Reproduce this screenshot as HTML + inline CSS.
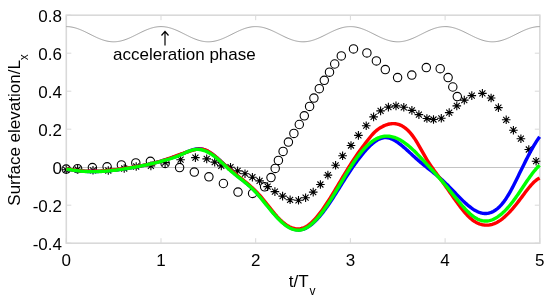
<!DOCTYPE html>
<html><head><meta charset="utf-8"><style>
html,body{margin:0;padding:0;background:#fff;}
svg{display:block;}
.t{font-family:"Liberation Sans",Arial,sans-serif;font-size:17px;fill:#000;}
</style></head><body>
<svg width="550" height="299" viewBox="0 0 550 299">
<rect x="66.3" y="15.2" width="473.49999999999994" height="228.0" fill="none" stroke="#d9d9d9" stroke-width="1.6"/>
<line x1="66.30" y1="243.2" x2="66.30" y2="238.2" stroke="#d9d9d9" stroke-width="1"/>
<line x1="66.30" y1="15.2" x2="66.30" y2="20.2" stroke="#d9d9d9" stroke-width="1"/>
<line x1="161.00" y1="243.2" x2="161.00" y2="238.2" stroke="#d9d9d9" stroke-width="1"/>
<line x1="161.00" y1="15.2" x2="161.00" y2="20.2" stroke="#d9d9d9" stroke-width="1"/>
<line x1="255.70" y1="243.2" x2="255.70" y2="238.2" stroke="#d9d9d9" stroke-width="1"/>
<line x1="255.70" y1="15.2" x2="255.70" y2="20.2" stroke="#d9d9d9" stroke-width="1"/>
<line x1="350.40" y1="243.2" x2="350.40" y2="238.2" stroke="#d9d9d9" stroke-width="1"/>
<line x1="350.40" y1="15.2" x2="350.40" y2="20.2" stroke="#d9d9d9" stroke-width="1"/>
<line x1="445.10" y1="243.2" x2="445.10" y2="238.2" stroke="#d9d9d9" stroke-width="1"/>
<line x1="445.10" y1="15.2" x2="445.10" y2="20.2" stroke="#d9d9d9" stroke-width="1"/>
<line x1="539.80" y1="243.2" x2="539.80" y2="238.2" stroke="#d9d9d9" stroke-width="1"/>
<line x1="539.80" y1="15.2" x2="539.80" y2="20.2" stroke="#d9d9d9" stroke-width="1"/>
<line x1="66.3" y1="243.20" x2="71.3" y2="243.20" stroke="#d9d9d9" stroke-width="1"/>
<line x1="539.8" y1="243.20" x2="534.8" y2="243.20" stroke="#d9d9d9" stroke-width="1"/>
<line x1="66.3" y1="205.20" x2="71.3" y2="205.20" stroke="#d9d9d9" stroke-width="1"/>
<line x1="539.8" y1="205.20" x2="534.8" y2="205.20" stroke="#d9d9d9" stroke-width="1"/>
<line x1="66.3" y1="167.20" x2="71.3" y2="167.20" stroke="#d9d9d9" stroke-width="1"/>
<line x1="539.8" y1="167.20" x2="534.8" y2="167.20" stroke="#d9d9d9" stroke-width="1"/>
<line x1="66.3" y1="129.20" x2="71.3" y2="129.20" stroke="#d9d9d9" stroke-width="1"/>
<line x1="539.8" y1="129.20" x2="534.8" y2="129.20" stroke="#d9d9d9" stroke-width="1"/>
<line x1="66.3" y1="91.20" x2="71.3" y2="91.20" stroke="#d9d9d9" stroke-width="1"/>
<line x1="539.8" y1="91.20" x2="534.8" y2="91.20" stroke="#d9d9d9" stroke-width="1"/>
<line x1="66.3" y1="53.20" x2="71.3" y2="53.20" stroke="#d9d9d9" stroke-width="1"/>
<line x1="539.8" y1="53.20" x2="534.8" y2="53.20" stroke="#d9d9d9" stroke-width="1"/>
<line x1="66.3" y1="15.20" x2="71.3" y2="15.20" stroke="#d9d9d9" stroke-width="1"/>
<line x1="539.8" y1="15.20" x2="534.8" y2="15.20" stroke="#d9d9d9" stroke-width="1"/>
<line x1="66.3" y1="167.5" x2="539.8" y2="167.5" stroke="#c4c4c4" stroke-width="1.2"/>
<polyline points="66.30,26.60 67.25,26.61 68.19,26.66 69.14,26.73 70.09,26.84 71.03,26.97 71.98,27.13 72.93,27.32 73.88,27.54 74.82,27.78 75.77,28.05 76.72,28.34 77.66,28.66 78.61,29.00 79.56,29.36 80.50,29.73 81.45,30.13 82.40,30.54 83.35,30.96 84.29,31.40 85.24,31.85 86.19,32.31 87.13,32.78 88.08,33.25 89.03,33.72 89.97,34.20 90.92,34.68 91.87,35.15 92.82,35.62 93.76,36.09 94.71,36.55 95.66,37.00 96.60,37.44 97.55,37.86 98.50,38.27 99.44,38.67 100.39,39.04 101.34,39.40 102.29,39.74 103.23,40.06 104.18,40.35 105.13,40.62 106.07,40.86 107.02,41.08 107.97,41.27 108.91,41.43 109.86,41.56 110.81,41.67 111.76,41.74 112.70,41.79 113.65,41.80 114.60,41.79 115.54,41.74 116.49,41.67 117.44,41.56 118.39,41.43 119.33,41.27 120.28,41.08 121.23,40.86 122.17,40.62 123.12,40.35 124.07,40.06 125.01,39.74 125.96,39.40 126.91,39.04 127.86,38.67 128.80,38.27 129.75,37.86 130.70,37.44 131.64,37.00 132.59,36.55 133.54,36.09 134.48,35.62 135.43,35.15 136.38,34.68 137.32,34.20 138.27,33.72 139.22,33.25 140.17,32.78 141.11,32.31 142.06,31.85 143.01,31.40 143.95,30.96 144.90,30.54 145.85,30.13 146.80,29.73 147.74,29.36 148.69,29.00 149.64,28.66 150.58,28.34 151.53,28.05 152.48,27.78 153.42,27.54 154.37,27.32 155.32,27.13 156.26,26.97 157.21,26.84 158.16,26.73 159.11,26.66 160.05,26.61 161.00,26.60 161.95,26.61 162.89,26.66 163.84,26.73 164.79,26.84 165.74,26.97 166.68,27.13 167.63,27.32 168.58,27.54 169.52,27.78 170.47,28.05 171.42,28.34 172.36,28.66 173.31,29.00 174.26,29.36 175.20,29.73 176.15,30.13 177.10,30.54 178.05,30.96 178.99,31.40 179.94,31.85 180.89,32.31 181.83,32.78 182.78,33.25 183.73,33.72 184.68,34.20 185.62,34.68 186.57,35.15 187.52,35.62 188.46,36.09 189.41,36.55 190.36,37.00 191.30,37.44 192.25,37.86 193.20,38.27 194.15,38.67 195.09,39.04 196.04,39.40 196.99,39.74 197.93,40.06 198.88,40.35 199.83,40.62 200.77,40.86 201.72,41.08 202.67,41.27 203.62,41.43 204.56,41.56 205.51,41.67 206.46,41.74 207.40,41.79 208.35,41.80 209.30,41.79 210.24,41.74 211.19,41.67 212.14,41.56 213.08,41.43 214.03,41.27 214.98,41.08 215.93,40.86 216.87,40.62 217.82,40.35 218.77,40.06 219.71,39.74 220.66,39.40 221.61,39.04 222.56,38.67 223.50,38.27 224.45,37.86 225.40,37.44 226.34,37.00 227.29,36.55 228.24,36.09 229.18,35.62 230.13,35.15 231.08,34.68 232.02,34.20 232.97,33.72 233.92,33.25 234.87,32.78 235.81,32.31 236.76,31.85 237.71,31.40 238.65,30.96 239.60,30.54 240.55,30.13 241.50,29.73 242.44,29.36 243.39,29.00 244.34,28.66 245.28,28.34 246.23,28.05 247.18,27.78 248.12,27.54 249.07,27.32 250.02,27.13 250.96,26.97 251.91,26.84 252.86,26.73 253.81,26.66 254.75,26.61 255.70,26.60 256.65,26.61 257.59,26.66 258.54,26.73 259.49,26.84 260.44,26.97 261.38,27.13 262.33,27.32 263.28,27.54 264.22,27.78 265.17,28.05 266.12,28.34 267.06,28.66 268.01,29.00 268.96,29.36 269.90,29.73 270.85,30.13 271.80,30.54 272.75,30.96 273.69,31.40 274.64,31.85 275.59,32.31 276.53,32.78 277.48,33.25 278.43,33.72 279.38,34.20 280.32,34.68 281.27,35.15 282.22,35.62 283.16,36.09 284.11,36.55 285.06,37.00 286.00,37.44 286.95,37.86 287.90,38.27 288.85,38.67 289.79,39.04 290.74,39.40 291.69,39.74 292.63,40.06 293.58,40.35 294.53,40.62 295.47,40.86 296.42,41.08 297.37,41.27 298.31,41.43 299.26,41.56 300.21,41.67 301.16,41.74 302.10,41.79 303.05,41.80 304.00,41.79 304.94,41.74 305.89,41.67 306.84,41.56 307.78,41.43 308.73,41.27 309.68,41.08 310.63,40.86 311.57,40.62 312.52,40.35 313.47,40.06 314.41,39.74 315.36,39.40 316.31,39.04 317.25,38.67 318.20,38.27 319.15,37.86 320.10,37.44 321.04,37.00 321.99,36.55 322.94,36.09 323.88,35.62 324.83,35.15 325.78,34.68 326.73,34.20 327.67,33.72 328.62,33.25 329.57,32.78 330.51,32.31 331.46,31.85 332.41,31.40 333.35,30.96 334.30,30.54 335.25,30.13 336.20,29.73 337.14,29.36 338.09,29.00 339.04,28.66 339.98,28.34 340.93,28.05 341.88,27.78 342.82,27.54 343.77,27.32 344.72,27.13 345.67,26.97 346.61,26.84 347.56,26.73 348.51,26.66 349.45,26.61 350.40,26.60 351.35,26.61 352.29,26.66 353.24,26.73 354.19,26.84 355.13,26.97 356.08,27.13 357.03,27.32 357.98,27.54 358.92,27.78 359.87,28.05 360.82,28.34 361.76,28.66 362.71,29.00 363.66,29.36 364.61,29.73 365.55,30.13 366.50,30.54 367.45,30.96 368.39,31.40 369.34,31.85 370.29,32.31 371.23,32.78 372.18,33.25 373.13,33.72 374.08,34.20 375.02,34.68 375.97,35.15 376.92,35.62 377.86,36.09 378.81,36.55 379.76,37.00 380.70,37.44 381.65,37.86 382.60,38.27 383.55,38.67 384.49,39.04 385.44,39.40 386.39,39.74 387.33,40.06 388.28,40.35 389.23,40.62 390.17,40.86 391.12,41.08 392.07,41.27 393.02,41.43 393.96,41.56 394.91,41.67 395.86,41.74 396.80,41.79 397.75,41.80 398.70,41.79 399.64,41.74 400.59,41.67 401.54,41.56 402.49,41.43 403.43,41.27 404.38,41.08 405.33,40.86 406.27,40.62 407.22,40.35 408.17,40.06 409.11,39.74 410.06,39.40 411.01,39.04 411.96,38.67 412.90,38.27 413.85,37.86 414.80,37.44 415.74,37.00 416.69,36.55 417.64,36.09 418.58,35.62 419.53,35.15 420.48,34.68 421.43,34.20 422.37,33.72 423.32,33.25 424.27,32.78 425.21,32.31 426.16,31.85 427.11,31.40 428.05,30.96 429.00,30.54 429.95,30.13 430.90,29.73 431.84,29.36 432.79,29.00 433.74,28.66 434.68,28.34 435.63,28.05 436.58,27.78 437.52,27.54 438.47,27.32 439.42,27.13 440.37,26.97 441.31,26.84 442.26,26.73 443.21,26.66 444.15,26.61 445.10,26.60 446.05,26.61 446.99,26.66 447.94,26.73 448.89,26.84 449.83,26.97 450.78,27.13 451.73,27.32 452.68,27.54 453.62,27.78 454.57,28.05 455.52,28.34 456.46,28.66 457.41,29.00 458.36,29.36 459.31,29.73 460.25,30.13 461.20,30.54 462.15,30.96 463.09,31.40 464.04,31.85 464.99,32.31 465.93,32.78 466.88,33.25 467.83,33.72 468.78,34.20 469.72,34.68 470.67,35.15 471.62,35.62 472.56,36.09 473.51,36.55 474.46,37.00 475.40,37.44 476.35,37.86 477.30,38.27 478.25,38.67 479.19,39.04 480.14,39.40 481.09,39.74 482.03,40.06 482.98,40.35 483.93,40.62 484.87,40.86 485.82,41.08 486.77,41.27 487.72,41.43 488.66,41.56 489.61,41.67 490.56,41.74 491.50,41.79 492.45,41.80 493.40,41.79 494.34,41.74 495.29,41.67 496.24,41.56 497.19,41.43 498.13,41.27 499.08,41.08 500.03,40.86 500.97,40.62 501.92,40.35 502.87,40.06 503.81,39.74 504.76,39.40 505.71,39.04 506.66,38.67 507.60,38.27 508.55,37.86 509.50,37.44 510.44,37.00 511.39,36.55 512.34,36.09 513.28,35.62 514.23,35.15 515.18,34.68 516.12,34.20 517.07,33.72 518.02,33.25 518.97,32.78 519.91,32.31 520.86,31.85 521.81,31.40 522.75,30.96 523.70,30.54 524.65,30.13 525.59,29.73 526.54,29.36 527.49,29.00 528.44,28.66 529.38,28.34 530.33,28.05 531.28,27.78 532.22,27.54 533.17,27.32 534.12,27.13 535.07,26.97 536.01,26.84 536.96,26.73 537.91,26.66 538.85,26.61 539.80,26.60" fill="none" stroke="#a0a0a0" stroke-width="1"/>
<text x="66.30" y="265.5" text-anchor="middle" class="t">0</text>
<text x="161.00" y="265.5" text-anchor="middle" class="t">1</text>
<text x="255.70" y="265.5" text-anchor="middle" class="t">2</text>
<text x="350.40" y="265.5" text-anchor="middle" class="t">3</text>
<text x="445.10" y="265.5" text-anchor="middle" class="t">4</text>
<text x="539.80" y="265.5" text-anchor="middle" class="t">5</text>
<text x="62" y="250.20" text-anchor="end" class="t">-0.4</text>
<text x="62" y="212.20" text-anchor="end" class="t">-0.2</text>
<text x="62" y="174.20" text-anchor="end" class="t">0</text>
<text x="62" y="136.20" text-anchor="end" class="t">0.2</text>
<text x="62" y="98.20" text-anchor="end" class="t">0.4</text>
<text x="62" y="60.20" text-anchor="end" class="t">0.6</text>
<text x="62" y="22.20" text-anchor="end" class="t">0.8</text>
<text x="288.8" y="287" class="t">t/T<tspan dx="0.8" dy="7.5" font-size="12">v</tspan></text>
<text transform="translate(20,205.7) rotate(-90)" class="t">Surface elevation/L<tspan dy="7.5" font-size="12">x</tspan></text>
<text x="113" y="59.9" class="t">acceleration phase</text>
<path d="M165,45.4 V31.4 M161.5,35.5 L165,31.4 L168.5,35.5" fill="none" stroke="#000" stroke-width="1.2"/>
<g fill="none" stroke="#000" stroke-width="1.1">
<circle cx="66.2" cy="169.1" r="4.2"/>
<circle cx="77.6" cy="168.7" r="4.2"/>
<circle cx="92.4" cy="167.6" r="4.2"/>
<circle cx="107.1" cy="166.8" r="4.2"/>
<circle cx="121.4" cy="164.9" r="4.2"/>
<circle cx="135.8" cy="162.9" r="4.2"/>
<circle cx="150.4" cy="161.3" r="4.2"/>
<circle cx="165.1" cy="163.4" r="4.2"/>
<circle cx="179.6" cy="167.6" r="4.2"/>
<circle cx="194.3" cy="172.1" r="4.2"/>
<circle cx="208.9" cy="176.8" r="4.2"/>
<circle cx="223.4" cy="183.5" r="4.2"/>
<circle cx="238" cy="192.1" r="4.2"/>
<circle cx="252.6" cy="193.4" r="4.2"/>
<circle cx="264.6" cy="186.8" r="4.2"/>
<circle cx="271" cy="177.6" r="4.2"/>
<circle cx="275.2" cy="168.4" r="4.2"/>
<circle cx="278.4" cy="160.4" r="4.2"/>
<circle cx="283.1" cy="151.4" r="4.2"/>
<circle cx="288.4" cy="142.1" r="4.2"/>
<circle cx="293.9" cy="133.4" r="4.2"/>
<circle cx="299.3" cy="124.5" r="4.2"/>
<circle cx="304.3" cy="115.8" r="4.2"/>
<circle cx="309.6" cy="106.4" r="4.2"/>
<circle cx="313.9" cy="98.1" r="4.2"/>
<circle cx="319.3" cy="88.7" r="4.2"/>
<circle cx="324.3" cy="80.3" r="4.2"/>
<circle cx="329.5" cy="72.2" r="4.2"/>
<circle cx="334.7" cy="64" r="4.2"/>
<circle cx="341.3" cy="55.9" r="4.2"/>
<circle cx="353.5" cy="48.9" r="4.2"/>
<circle cx="366.9" cy="52.9" r="4.2"/>
<circle cx="376.4" cy="60.9" r="4.2"/>
<circle cx="385.3" cy="69.6" r="4.2"/>
<circle cx="397.6" cy="77.6" r="4.2"/>
<circle cx="411.8" cy="75.1" r="4.2"/>
<circle cx="426.3" cy="67.6" r="4.2"/>
<circle cx="440.2" cy="68.7" r="4.2"/>
<circle cx="448.1" cy="77.6" r="4.2"/>
<circle cx="452.8" cy="87" r="4.2"/>
<circle cx="457.3" cy="96.6" r="4.2"/>
</g>
<path d="M61.9,169.8h8.6M66.2,165.5v8.6M63.2,166.8l6,6M63.2,172.8l6,-6M73.3,169.3h8.6M77.6,165.0v8.6M74.6,166.3l6,6M74.6,172.3l6,-6M88.7,170.3h8.6M93.0,166.0v8.6M90.0,167.3l6,6M90.0,173.3l6,-6M104.0,170.5h8.6M108.3,166.2v8.6M105.3,167.5l6,6M105.3,173.5l6,-6M119.9,168.5h8.6M124.2,164.2v8.6M121.2,165.5l6,6M121.2,171.5l6,-6M131.9,166.5h8.6M136.2,162.2v8.6M133.2,163.5l6,6M133.2,169.5l6,-6M146.6,165.9h8.6M150.9,161.6v8.6M147.9,162.9l6,6M147.9,168.9l6,-6M160.8,162.6h8.6M165.1,158.3v8.6M162.1,159.6l6,6M162.1,165.6l6,-6M176.3,159.7h8.6M180.6,155.4v8.6M177.6,156.7l6,6M177.6,162.7l6,-6M191.1,157.6h8.6M195.4,153.3v8.6M192.4,154.6l6,6M192.4,160.6l6,-6M202.4,158.9h8.6M206.7,154.6v8.6M203.7,155.9l6,6M203.7,161.9l6,-6M210.4,162.1h8.6M214.7,157.8v8.6M211.7,159.1l6,6M211.7,165.1l6,-6M217.0,165.9h8.6M221.3,161.6v8.6M218.3,162.9l6,6M218.3,168.9l6,-6M226.2,167.2h8.6M230.5,162.9v8.6M227.5,164.2l6,6M227.5,170.2l6,-6M233.3,170.9h8.6M237.6,166.6v8.6M234.6,167.9l6,6M234.6,173.9l6,-6M240.7,173.7h8.6M245.0,169.4v8.6M242.0,170.7l6,6M242.0,176.7l6,-6M248.1,177.2h8.6M252.4,172.9v8.6M249.4,174.2l6,6M249.4,180.2l6,-6M255.3,180.9h8.6M259.6,176.6v8.6M256.6,177.9l6,6M256.6,183.9l6,-6M263.3,186.6h8.6M267.6,182.3v8.6M264.6,183.6l6,6M264.6,189.6l6,-6M270.6,191.6h8.6M274.9,187.3v8.6M271.9,188.6l6,6M271.9,194.6l6,-6M278.3,196.1h8.6M282.6,191.8v8.6M279.6,193.1l6,6M279.6,199.1l6,-6M285.8,199.8h8.6M290.1,195.5v8.6M287.1,196.8l6,6M287.1,202.8l6,-6M294.2,200.3h8.6M298.5,196.0v8.6M295.5,197.3l6,6M295.5,203.3l6,-6M301.3,197.7h8.6M305.6,193.4v8.6M302.6,194.7l6,6M302.6,200.7l6,-6M308.9,192.1h8.6M313.2,187.8v8.6M310.2,189.1l6,6M310.2,195.1l6,-6M316.1,184.5h8.6M320.4,180.2v8.6M317.4,181.5l6,6M317.4,187.5l6,-6M323.6,175.1h8.6M327.9,170.8v8.6M324.9,172.1l6,6M324.9,178.1l6,-6M331.3,165.3h8.6M335.6,161.0v8.6M332.6,162.3l6,6M332.6,168.3l6,-6M338.3,155.8h8.6M342.6,151.5v8.6M339.6,152.8l6,6M339.6,158.8l6,-6M346.7,145.5h8.6M351.0,141.2v8.6M348.0,142.5l6,6M348.0,148.5l6,-6M354.1,135.4h8.6M358.4,131.1v8.6M355.4,132.4l6,6M355.4,138.4l6,-6M361.9,125.7h8.6M366.2,121.4v8.6M363.2,122.7l6,6M363.2,128.7l6,-6M369.3,116.9h8.6M373.6,112.6v8.6M370.6,113.9l6,6M370.6,119.9l6,-6M376.3,110.9h8.6M380.6,106.6v8.6M377.6,107.9l6,6M377.6,113.9l6,-6M384.1,107.1h8.6M388.4,102.8v8.6M385.4,104.1l6,6M385.4,110.1l6,-6M391.7,105.9h8.6M396.0,101.6v8.6M393.0,102.9l6,6M393.0,108.9l6,-6M399.5,107.3h8.6M403.8,103.0v8.6M400.8,104.3l6,6M400.8,110.3l6,-6M407.6,110.4h8.6M411.9,106.1v8.6M408.9,107.4l6,6M408.9,113.4l6,-6M414.6,114.6h8.6M418.9,110.3v8.6M415.9,111.6l6,6M415.9,117.6l6,-6M422.6,118.5h8.6M426.9,114.2v8.6M423.9,115.5l6,6M423.9,121.5l6,-6M429.2,119.5h8.6M433.5,115.2v8.6M430.5,116.5l6,6M430.5,122.5l6,-6M437.0,118.3h8.6M441.3,114.0v8.6M438.3,115.3l6,6M438.3,121.3l6,-6M444.9,112.6h8.6M449.2,108.3v8.6M446.2,109.6l6,6M446.2,115.6l6,-6M452.5,105.9h8.6M456.8,101.6v8.6M453.8,102.9l6,6M453.8,108.9l6,-6M460.0,100.1h8.6M464.3,95.8v8.6M461.3,97.1l6,6M461.3,103.1l6,-6M467.5,95.6h8.6M471.8,91.3v8.6M468.8,92.6l6,6M468.8,98.6l6,-6M478.1,93.4h8.6M482.4,89.1v8.6M479.4,90.4l6,6M479.4,96.4l6,-6M486.8,98.0h8.6M491.1,93.7v8.6M488.1,95.0l6,6M488.1,101.0l6,-6M494.1,107.6h8.6M498.4,103.3v8.6M495.4,104.6l6,6M495.4,110.6l6,-6M501.9,119.8h8.6M506.2,115.5v8.6M503.2,116.8l6,6M503.2,122.8l6,-6M509.1,130.2h8.6M513.4,125.9v8.6M510.4,127.2l6,6M510.4,133.2l6,-6M516.6,138.7h8.6M520.9,134.4v8.6M517.9,135.7l6,6M517.9,141.7l6,-6M524.5,149.5h8.6M528.8,145.2v8.6M525.8,146.5l6,6M525.8,152.5l6,-6M531.8,161.2h8.6M536.1,156.9v8.6M533.1,158.2l6,6M533.1,164.2l6,-6" fill="none" stroke="#000" stroke-width="1.1"/>
<path d="M66.3,168.91 L67.3,169.12 L68.3,169.32 L69.3,169.51 L70.3,169.69 L71.3,169.86 L72.3,170.03 L73.3,170.18 L74.3,170.33 L75.3,170.46 L76.3,170.59 L77.3,170.71 L78.3,170.82 L79.3,170.92 L80.3,171.01 L81.3,171.10 L82.3,171.18 L83.3,171.25 L84.3,171.31 L85.3,171.37 L86.3,171.41 L87.3,171.45 L88.3,171.49 L89.3,171.51 L90.3,171.53 L91.3,171.54 L92.3,171.55 L93.3,171.55 L94.3,171.54 L95.3,171.53 L96.3,171.50 L97.3,171.48 L98.3,171.44 L99.3,171.41 L100.3,171.36 L101.3,171.31 L102.3,171.26 L103.3,171.19 L104.3,171.13 L105.3,171.06 L106.3,170.98 L107.3,170.90 L108.3,170.81 L109.3,170.72 L110.3,170.62 L111.3,170.52 L112.3,170.42 L113.3,170.31 L114.3,170.19 L115.3,170.08 L116.3,169.96 L117.3,169.83 L118.3,169.70 L119.3,169.57 L120.3,169.43 L121.3,169.29 L122.3,169.15 L123.3,169.01 L124.3,168.86 L125.3,168.71 L126.3,168.55 L127.3,168.40 L128.3,168.24 L129.3,168.08 L130.3,167.91 L131.3,167.74 L132.3,167.57 L133.3,167.40 L134.3,167.22 L135.3,167.04 L136.3,166.85 L137.3,166.67 L138.3,166.47 L139.3,166.28 L140.3,166.08 L141.3,165.88 L142.3,165.68 L143.3,165.47 L144.3,165.25 L145.3,165.04 L146.3,164.82 L147.3,164.59 L148.3,164.37 L149.3,164.13 L150.3,163.90 L151.3,163.66 L152.3,163.41 L153.3,163.16 L154.3,162.91 L155.3,162.65 L156.3,162.39 L157.3,162.13 L158.3,161.86 L159.3,161.58 L160.3,161.30 L161.3,161.02 L162.3,160.73 L163.3,160.44 L164.3,160.14 L165.3,159.84 L166.3,159.53 L167.3,159.21 L168.3,158.90 L169.3,158.57 L170.3,158.24 L171.3,157.91 L172.3,157.57 L173.3,157.23 L174.3,156.88 L175.3,156.53 L176.3,156.17 L177.3,155.80 L178.3,155.43 L179.3,155.05 L180.3,154.67 L181.3,154.28 L182.3,153.89 L183.3,153.49 L184.3,153.08 L185.3,152.67 L186.3,152.26 L187.3,151.84 L188.3,151.43 L189.3,151.03 L190.3,150.65 L191.3,150.29 L192.3,149.96 L193.3,149.66 L194.3,149.39 L195.3,149.17 L196.3,148.99 L197.3,148.86 L198.3,148.80 L199.3,148.79 L200.3,148.85 L201.3,148.98 L202.3,149.18 L203.3,149.45 L204.3,149.77 L205.3,150.15 L206.3,150.59 L207.3,151.08 L208.3,151.62 L209.3,152.20 L210.3,152.83 L211.3,153.49 L212.3,154.19 L213.3,154.93 L214.3,155.70 L215.3,156.49 L216.3,157.31 L217.3,158.15 L218.3,159.02 L219.3,159.89 L220.3,160.79 L221.3,161.69 L222.3,162.60 L223.3,163.53 L224.3,164.45 L225.3,165.38 L226.3,166.30 L227.3,167.22 L228.3,168.14 L229.3,169.05 L230.3,169.94 L231.3,170.82 L232.3,171.70 L233.3,172.56 L234.3,173.41 L235.3,174.25 L236.3,175.08 L237.3,175.91 L238.3,176.73 L239.3,177.54 L240.3,178.36 L241.3,179.16 L242.3,179.97 L243.3,180.78 L244.3,181.58 L245.3,182.39 L246.3,183.21 L247.3,184.04 L248.3,184.88 L249.3,185.74 L250.3,186.61 L251.3,187.51 L252.3,188.42 L253.3,189.37 L254.3,190.34 L255.3,191.34 L256.3,192.37 L257.3,193.44 L258.3,194.55 L259.3,195.69 L260.3,196.86 L261.3,198.05 L262.3,199.27 L263.3,200.50 L264.3,201.74 L265.3,203.00 L266.3,204.25 L267.3,205.51 L268.3,206.77 L269.3,208.02 L270.3,209.25 L271.3,210.48 L272.3,211.68 L273.3,212.86 L274.3,214.02 L275.3,215.15 L276.3,216.26 L277.3,217.33 L278.3,218.38 L279.3,219.39 L280.3,220.36 L281.3,221.30 L282.3,222.20 L283.3,223.06 L284.3,223.88 L285.3,224.66 L286.3,225.39 L287.3,226.07 L288.3,226.71 L289.3,227.29 L290.3,227.82 L291.3,228.30 L292.3,228.72 L293.3,229.08 L294.3,229.38 L295.3,229.63 L296.3,229.80 L297.3,229.92 L298.3,229.97 L299.3,229.94 L300.3,229.85 L301.3,229.69 L302.3,229.46 L303.3,229.17 L304.3,228.81 L305.3,228.39 L306.3,227.91 L307.3,227.37 L308.3,226.77 L309.3,226.12 L310.3,225.41 L311.3,224.64 L312.3,223.83 L313.3,222.96 L314.3,222.05 L315.3,221.09 L316.3,220.08 L317.3,219.02 L318.3,217.93 L319.3,216.79 L320.3,215.62 L321.3,214.40 L322.3,213.15 L323.3,211.86 L324.3,210.54 L325.3,209.19 L326.3,207.81 L327.3,206.40 L328.3,204.96 L329.3,203.50 L330.3,202.02 L331.3,200.51 L332.3,198.99 L333.3,197.45 L334.3,195.90 L335.3,194.33 L336.3,192.76 L337.3,191.17 L338.3,189.58 L339.3,187.99 L340.3,186.39 L341.3,184.80 L342.3,183.20 L343.3,181.61 L344.3,180.03 L345.3,178.45 L346.3,176.88 L347.3,175.33 L348.3,173.79 L349.3,172.26 L350.3,170.76 L351.3,169.27 L352.3,167.80 L353.3,166.36 L354.3,164.94 L355.3,163.54 L356.3,162.16 L357.3,160.80 L358.3,159.47 L359.3,158.16 L360.3,156.87 L361.3,155.61 L362.3,154.37 L363.3,153.15 L364.3,151.97 L365.3,150.81 L366.3,149.69 L367.3,148.60 L368.3,147.54 L369.3,146.53 L370.3,145.56 L371.3,144.63 L372.3,143.75 L373.3,142.92 L374.3,142.14 L375.3,141.41 L376.3,140.74 L377.3,140.12 L378.3,139.57 L379.3,139.08 L380.3,138.66 L381.3,138.31 L382.3,138.02 L383.3,137.81 L384.3,137.67 L385.3,137.61 L386.3,137.63 L387.3,137.73 L388.3,137.90 L389.3,138.14 L390.3,138.45 L391.3,138.82 L392.3,139.25 L393.3,139.74 L394.3,140.27 L395.3,140.86 L396.3,141.49 L397.3,142.16 L398.3,142.86 L399.3,143.60 L400.3,144.37 L401.3,145.17 L402.3,145.99 L403.3,146.83 L404.3,147.69 L405.3,148.57 L406.3,149.46 L407.3,150.37 L408.3,151.28 L409.3,152.20 L410.3,153.13 L411.3,154.05 L412.3,154.98 L413.3,155.90 L414.3,156.82 L415.3,157.73 L416.3,158.63 L417.3,159.52 L418.3,160.39 L419.3,161.25 L420.3,162.10 L421.3,162.93 L422.3,163.76 L423.3,164.58 L424.3,165.40 L425.3,166.20 L426.3,167.01 L427.3,167.80 L428.3,168.60 L429.3,169.40 L430.3,170.19 L431.3,170.99 L432.3,171.79 L433.3,172.59 L434.3,173.39 L435.3,174.21 L436.3,175.03 L437.3,175.85 L438.3,176.69 L439.3,177.54 L440.3,178.40 L441.3,179.27 L442.3,180.15 L443.3,181.06 L444.3,181.97 L445.3,182.91 L446.3,183.86 L447.3,184.83 L448.3,185.82 L449.3,186.83 L450.3,187.84 L451.3,188.87 L452.3,189.90 L453.3,190.94 L454.3,191.98 L455.3,193.02 L456.3,194.06 L457.3,195.09 L458.3,196.12 L459.3,197.15 L460.3,198.16 L461.3,199.16 L462.3,200.14 L463.3,201.11 L464.3,202.06 L465.3,202.98 L466.3,203.88 L467.3,204.76 L468.3,205.61 L469.3,206.42 L470.3,207.20 L471.3,207.95 L472.3,208.66 L473.3,209.33 L474.3,209.96 L475.3,210.55 L476.3,211.08 L477.3,211.57 L478.3,212.01 L479.3,212.40 L480.3,212.73 L481.3,213.00 L482.3,213.21 L483.3,213.36 L484.3,213.46 L485.3,213.49 L486.3,213.46 L487.3,213.36 L488.3,213.21 L489.3,212.98 L490.3,212.69 L491.3,212.33 L492.3,211.91 L493.3,211.41 L494.3,210.85 L495.3,210.21 L496.3,209.50 L497.3,208.72 L498.3,207.86 L499.3,206.93 L500.3,205.92 L501.3,204.83 L502.3,203.67 L503.3,202.42 L504.3,201.10 L505.3,199.69 L506.3,198.21 L507.3,196.64 L508.3,195.00 L509.3,193.30 L510.3,191.54 L511.3,189.72 L512.3,187.85 L513.3,185.93 L514.3,183.98 L515.3,182.00 L516.3,179.99 L517.3,177.96 L518.3,175.91 L519.3,173.86 L520.3,171.80 L521.3,169.74 L522.3,167.69 L523.3,165.65 L524.3,163.63 L525.3,161.62 L526.3,159.64 L527.3,157.68 L528.3,155.75 L529.3,153.84 L530.3,151.98 L531.3,150.15 L532.3,148.36 L533.3,146.61 L534.3,144.92 L535.3,143.27 L536.3,141.67 L537.3,140.13 L538.3,138.65 L539.3,137.24 L539.6,136.82" fill="none" stroke="#0000ff" stroke-width="3.4" stroke-linejoin="round"/>
<path d="M66.3,168.63 L67.3,168.86 L68.3,169.07 L69.3,169.27 L70.3,169.47 L71.3,169.65 L72.3,169.82 L73.3,169.98 L74.3,170.13 L75.3,170.28 L76.3,170.41 L77.3,170.53 L78.3,170.64 L79.3,170.75 L80.3,170.84 L81.3,170.93 L82.3,171.00 L83.3,171.07 L84.3,171.13 L85.3,171.18 L86.3,171.23 L87.3,171.26 L88.3,171.29 L89.3,171.31 L90.3,171.32 L91.3,171.33 L92.3,171.33 L93.3,171.32 L94.3,171.30 L95.3,171.28 L96.3,171.25 L97.3,171.22 L98.3,171.18 L99.3,171.13 L100.3,171.08 L101.3,171.02 L102.3,170.95 L103.3,170.89 L104.3,170.81 L105.3,170.73 L106.3,170.65 L107.3,170.56 L108.3,170.46 L109.3,170.36 L110.3,170.26 L111.3,170.16 L112.3,170.04 L113.3,169.93 L114.3,169.81 L115.3,169.69 L116.3,169.57 L117.3,169.44 L118.3,169.31 L119.3,169.18 L120.3,169.04 L121.3,168.90 L122.3,168.76 L123.3,168.62 L124.3,168.47 L125.3,168.33 L126.3,168.18 L127.3,168.03 L128.3,167.88 L129.3,167.72 L130.3,167.57 L131.3,167.42 L132.3,167.26 L133.3,167.10 L134.3,166.95 L135.3,166.78 L136.3,166.62 L137.3,166.46 L138.3,166.29 L139.3,166.12 L140.3,165.94 L141.3,165.76 L142.3,165.58 L143.3,165.39 L144.3,165.20 L145.3,165.01 L146.3,164.81 L147.3,164.60 L148.3,164.39 L149.3,164.17 L150.3,163.95 L151.3,163.72 L152.3,163.49 L153.3,163.24 L154.3,162.99 L155.3,162.74 L156.3,162.47 L157.3,162.20 L158.3,161.92 L159.3,161.63 L160.3,161.34 L161.3,161.03 L162.3,160.72 L163.3,160.40 L164.3,160.07 L165.3,159.73 L166.3,159.39 L167.3,159.05 L168.3,158.70 L169.3,158.34 L170.3,157.99 L171.3,157.62 L172.3,157.26 L173.3,156.90 L174.3,156.53 L175.3,156.16 L176.3,155.79 L177.3,155.43 L178.3,155.06 L179.3,154.70 L180.3,154.33 L181.3,153.97 L182.3,153.62 L183.3,153.26 L184.3,152.92 L185.3,152.57 L186.3,152.23 L187.3,151.90 L188.3,151.57 L189.3,151.26 L190.3,150.94 L191.3,150.64 L192.3,150.36 L193.3,150.09 L194.3,149.84 L195.3,149.62 L196.3,149.44 L197.3,149.29 L198.3,149.18 L199.3,149.12 L200.3,149.11 L201.3,149.16 L202.3,149.26 L203.3,149.43 L204.3,149.67 L205.3,149.98 L206.3,150.37 L207.3,150.83 L208.3,151.35 L209.3,151.94 L210.3,152.57 L211.3,153.26 L212.3,153.99 L213.3,154.76 L214.3,155.57 L215.3,156.41 L216.3,157.26 L217.3,158.14 L218.3,159.03 L219.3,159.93 L220.3,160.84 L221.3,161.74 L222.3,162.64 L223.3,163.54 L224.3,164.44 L225.3,165.33 L226.3,166.22 L227.3,167.11 L228.3,167.98 L229.3,168.86 L230.3,169.72 L231.3,170.57 L232.3,171.42 L233.3,172.25 L234.3,173.08 L235.3,173.89 L236.3,174.69 L237.3,175.49 L238.3,176.27 L239.3,177.05 L240.3,177.83 L241.3,178.61 L242.3,179.39 L243.3,180.18 L244.3,180.97 L245.3,181.77 L246.3,182.59 L247.3,183.42 L248.3,184.26 L249.3,185.12 L250.3,186.00 L251.3,186.90 L252.3,187.82 L253.3,188.76 L254.3,189.72 L255.3,190.70 L256.3,191.71 L257.3,192.75 L258.3,193.81 L259.3,194.90 L260.3,196.01 L261.3,197.16 L262.3,198.33 L263.3,199.54 L264.3,200.77 L265.3,202.02 L266.3,203.28 L267.3,204.56 L268.3,205.84 L269.3,207.12 L270.3,208.40 L271.3,209.67 L272.3,210.92 L273.3,212.16 L274.3,213.37 L275.3,214.56 L276.3,215.71 L277.3,216.83 L278.3,217.90 L279.3,218.93 L280.3,219.92 L281.3,220.87 L282.3,221.76 L283.3,222.61 L284.3,223.42 L285.3,224.17 L286.3,224.87 L287.3,225.52 L288.3,226.12 L289.3,226.66 L290.3,227.14 L291.3,227.57 L292.3,227.95 L293.3,228.26 L294.3,228.51 L295.3,228.71 L296.3,228.84 L297.3,228.90 L298.3,228.90 L299.3,228.84 L300.3,228.71 L301.3,228.51 L302.3,228.24 L303.3,227.90 L304.3,227.48 L305.3,227.00 L306.3,226.45 L307.3,225.83 L308.3,225.14 L309.3,224.39 L310.3,223.58 L311.3,222.72 L312.3,221.79 L313.3,220.81 L314.3,219.78 L315.3,218.70 L316.3,217.57 L317.3,216.39 L318.3,215.17 L319.3,213.90 L320.3,212.60 L321.3,211.26 L322.3,209.88 L323.3,208.47 L324.3,207.02 L325.3,205.55 L326.3,204.05 L327.3,202.52 L328.3,200.98 L329.3,199.40 L330.3,197.82 L331.3,196.21 L332.3,194.59 L333.3,192.95 L334.3,191.30 L335.3,189.65 L336.3,187.98 L337.3,186.31 L338.3,184.63 L339.3,182.95 L340.3,181.27 L341.3,179.59 L342.3,177.91 L343.3,176.24 L344.3,174.57 L345.3,172.92 L346.3,171.27 L347.3,169.63 L348.3,168.01 L349.3,166.40 L350.3,164.80 L351.3,163.23 L352.3,161.68 L353.3,160.15 L354.3,158.64 L355.3,157.16 L356.3,155.70 L357.3,154.26 L358.3,152.84 L359.3,151.44 L360.3,150.06 L361.3,148.69 L362.3,147.34 L363.3,146.00 L364.3,144.67 L365.3,143.36 L366.3,142.05 L367.3,140.75 L368.3,139.46 L369.3,138.19 L370.3,136.95 L371.3,135.75 L372.3,134.60 L373.3,133.51 L374.3,132.49 L375.3,131.55 L376.3,130.67 L377.3,129.86 L378.3,129.12 L379.3,128.43 L380.3,127.78 L381.3,127.19 L382.3,126.64 L383.3,126.13 L384.3,125.66 L385.3,125.24 L386.3,124.86 L387.3,124.53 L388.3,124.24 L389.3,124.01 L390.3,123.83 L391.3,123.70 L392.3,123.62 L393.3,123.60 L394.3,123.64 L395.3,123.73 L396.3,123.88 L397.3,124.09 L398.3,124.37 L399.3,124.70 L400.3,125.10 L401.3,125.57 L402.3,126.10 L403.3,126.70 L404.3,127.37 L405.3,128.11 L406.3,128.92 L407.3,129.80 L408.3,130.76 L409.3,131.80 L410.3,132.91 L411.3,134.10 L412.3,135.37 L413.3,136.73 L414.3,138.16 L415.3,139.68 L416.3,141.26 L417.3,142.91 L418.3,144.60 L419.3,146.33 L420.3,148.08 L421.3,149.86 L422.3,151.64 L423.3,153.41 L424.3,155.17 L425.3,156.91 L426.3,158.61 L427.3,160.26 L428.3,161.86 L429.3,163.41 L430.3,164.92 L431.3,166.39 L432.3,167.83 L433.3,169.25 L434.3,170.64 L435.3,172.01 L436.3,173.37 L437.3,174.73 L438.3,176.08 L439.3,177.43 L440.3,178.80 L441.3,180.17 L442.3,181.56 L443.3,182.97 L444.3,184.38 L445.3,185.80 L446.3,187.22 L447.3,188.65 L448.3,190.09 L449.3,191.52 L450.3,192.96 L451.3,194.39 L452.3,195.82 L453.3,197.25 L454.3,198.66 L455.3,200.07 L456.3,201.47 L457.3,202.86 L458.3,204.23 L459.3,205.57 L460.3,206.90 L461.3,208.20 L462.3,209.47 L463.3,210.70 L464.3,211.90 L465.3,213.06 L466.3,214.18 L467.3,215.25 L468.3,216.27 L469.3,217.24 L470.3,218.16 L471.3,219.01 L472.3,219.81 L473.3,220.56 L474.3,221.24 L475.3,221.87 L476.3,222.44 L477.3,222.96 L478.3,223.42 L479.3,223.83 L480.3,224.18 L481.3,224.48 L482.3,224.72 L483.3,224.91 L484.3,225.05 L485.3,225.14 L486.3,225.17 L487.3,225.15 L488.3,225.07 L489.3,224.95 L490.3,224.77 L491.3,224.55 L492.3,224.27 L493.3,223.95 L494.3,223.57 L495.3,223.14 L496.3,222.67 L497.3,222.15 L498.3,221.58 L499.3,220.96 L500.3,220.29 L501.3,219.58 L502.3,218.82 L503.3,218.01 L504.3,217.17 L505.3,216.28 L506.3,215.35 L507.3,214.38 L508.3,213.38 L509.3,212.34 L510.3,211.27 L511.3,210.17 L512.3,209.03 L513.3,207.87 L514.3,206.68 L515.3,205.46 L516.3,204.21 L517.3,202.95 L518.3,201.66 L519.3,200.36 L520.3,199.04 L521.3,197.70 L522.3,196.36 L523.3,195.02 L524.3,193.68 L525.3,192.35 L526.3,191.03 L527.3,189.74 L528.3,188.48 L529.3,187.25 L530.3,186.06 L531.3,184.92 L532.3,183.83 L533.3,182.80 L534.3,181.83 L535.3,180.94 L536.3,180.12 L537.3,179.38 L538.3,178.74 L539.3,178.19 L539.6,178.04" fill="none" stroke="#ff0000" stroke-width="3.4" stroke-linejoin="round"/>
<path d="M66.3,168.97 L67.3,169.18 L68.3,169.38 L69.3,169.58 L70.3,169.76 L71.3,169.93 L72.3,170.10 L73.3,170.25 L74.3,170.40 L75.3,170.54 L76.3,170.67 L77.3,170.79 L78.3,170.90 L79.3,171.00 L80.3,171.10 L81.3,171.19 L82.3,171.27 L83.3,171.34 L84.3,171.41 L85.3,171.46 L86.3,171.51 L87.3,171.56 L88.3,171.59 L89.3,171.62 L90.3,171.64 L91.3,171.65 L92.3,171.66 L93.3,171.66 L94.3,171.65 L95.3,171.64 L96.3,171.62 L97.3,171.60 L98.3,171.57 L99.3,171.53 L100.3,171.49 L101.3,171.44 L102.3,171.38 L103.3,171.32 L104.3,171.25 L105.3,171.18 L106.3,171.11 L107.3,171.02 L108.3,170.94 L109.3,170.84 L110.3,170.75 L111.3,170.65 L112.3,170.54 L113.3,170.43 L114.3,170.31 L115.3,170.19 L116.3,170.07 L117.3,169.94 L118.3,169.81 L119.3,169.68 L120.3,169.54 L121.3,169.39 L122.3,169.25 L123.3,169.10 L124.3,168.94 L125.3,168.79 L126.3,168.63 L127.3,168.47 L128.3,168.30 L129.3,168.13 L130.3,167.96 L131.3,167.79 L132.3,167.61 L133.3,167.43 L134.3,167.25 L135.3,167.07 L136.3,166.88 L137.3,166.69 L138.3,166.50 L139.3,166.31 L140.3,166.11 L141.3,165.91 L142.3,165.70 L143.3,165.50 L144.3,165.29 L145.3,165.08 L146.3,164.86 L147.3,164.64 L148.3,164.42 L149.3,164.20 L150.3,163.97 L151.3,163.74 L152.3,163.51 L153.3,163.27 L154.3,163.03 L155.3,162.79 L156.3,162.54 L157.3,162.29 L158.3,162.04 L159.3,161.78 L160.3,161.53 L161.3,161.26 L162.3,161.00 L163.3,160.73 L164.3,160.46 L165.3,160.18 L166.3,159.90 L167.3,159.62 L168.3,159.33 L169.3,159.03 L170.3,158.72 L171.3,158.41 L172.3,158.09 L173.3,157.76 L174.3,157.41 L175.3,157.06 L176.3,156.69 L177.3,156.30 L178.3,155.90 L179.3,155.49 L180.3,155.05 L181.3,154.60 L182.3,154.14 L183.3,153.68 L184.3,153.21 L185.3,152.75 L186.3,152.29 L187.3,151.85 L188.3,151.43 L189.3,151.03 L190.3,150.67 L191.3,150.33 L192.3,150.04 L193.3,149.79 L194.3,149.60 L195.3,149.45 L196.3,149.37 L197.3,149.34 L198.3,149.36 L199.3,149.44 L200.3,149.58 L201.3,149.76 L202.3,150.00 L203.3,150.28 L204.3,150.61 L205.3,150.99 L206.3,151.41 L207.3,151.88 L208.3,152.38 L209.3,152.93 L210.3,153.52 L211.3,154.15 L212.3,154.81 L213.3,155.51 L214.3,156.24 L215.3,157.01 L216.3,157.81 L217.3,158.63 L218.3,159.48 L219.3,160.36 L220.3,161.25 L221.3,162.15 L222.3,163.07 L223.3,164.00 L224.3,164.93 L225.3,165.86 L226.3,166.80 L227.3,167.73 L228.3,168.66 L229.3,169.57 L230.3,170.47 L231.3,171.36 L232.3,172.23 L233.3,173.07 L234.3,173.90 L235.3,174.72 L236.3,175.52 L237.3,176.31 L238.3,177.09 L239.3,177.87 L240.3,178.64 L241.3,179.42 L242.3,180.20 L243.3,180.98 L244.3,181.78 L245.3,182.58 L246.3,183.40 L247.3,184.23 L248.3,185.08 L249.3,185.96 L250.3,186.85 L251.3,187.78 L252.3,188.73 L253.3,189.72 L254.3,190.74 L255.3,191.79 L256.3,192.87 L257.3,193.99 L258.3,195.13 L259.3,196.29 L260.3,197.47 L261.3,198.67 L262.3,199.88 L263.3,201.11 L264.3,202.34 L265.3,203.57 L266.3,204.81 L267.3,206.05 L268.3,207.29 L269.3,208.51 L270.3,209.73 L271.3,210.94 L272.3,212.13 L273.3,213.30 L274.3,214.46 L275.3,215.58 L276.3,216.69 L277.3,217.76 L278.3,218.80 L279.3,219.81 L280.3,220.78 L281.3,221.72 L282.3,222.62 L283.3,223.48 L284.3,224.30 L285.3,225.07 L286.3,225.80 L287.3,226.47 L288.3,227.10 L289.3,227.68 L290.3,228.20 L291.3,228.66 L292.3,229.07 L293.3,229.42 L294.3,229.71 L295.3,229.93 L296.3,230.08 L297.3,230.17 L298.3,230.19 L299.3,230.14 L300.3,230.02 L301.3,229.82 L302.3,229.55 L303.3,229.22 L304.3,228.81 L305.3,228.35 L306.3,227.81 L307.3,227.22 L308.3,226.57 L309.3,225.86 L310.3,225.09 L311.3,224.26 L312.3,223.39 L313.3,222.46 L314.3,221.48 L315.3,220.45 L316.3,219.38 L317.3,218.26 L318.3,217.09 L319.3,215.89 L320.3,214.64 L321.3,213.36 L322.3,212.04 L323.3,210.68 L324.3,209.29 L325.3,207.87 L326.3,206.42 L327.3,204.94 L328.3,203.43 L329.3,201.90 L330.3,200.34 L331.3,198.76 L332.3,197.16 L333.3,195.55 L334.3,193.92 L335.3,192.27 L336.3,190.62 L337.3,188.96 L338.3,187.29 L339.3,185.61 L340.3,183.94 L341.3,182.26 L342.3,180.59 L343.3,178.92 L344.3,177.26 L345.3,175.61 L346.3,173.97 L347.3,172.34 L348.3,170.73 L349.3,169.14 L350.3,167.56 L351.3,166.01 L352.3,164.48 L353.3,162.98 L354.3,161.51 L355.3,160.07 L356.3,158.66 L357.3,157.29 L358.3,155.95 L359.3,154.65 L360.3,153.38 L361.3,152.15 L362.3,150.96 L363.3,149.81 L364.3,148.70 L365.3,147.63 L366.3,146.61 L367.3,145.62 L368.3,144.68 L369.3,143.79 L370.3,142.94 L371.3,142.14 L372.3,141.38 L373.3,140.67 L374.3,140.01 L375.3,139.41 L376.3,138.85 L377.3,138.34 L378.3,137.89 L379.3,137.49 L380.3,137.14 L381.3,136.84 L382.3,136.60 L383.3,136.40 L384.3,136.26 L385.3,136.16 L386.3,136.11 L387.3,136.11 L388.3,136.16 L389.3,136.25 L390.3,136.39 L391.3,136.57 L392.3,136.79 L393.3,137.06 L394.3,137.36 L395.3,137.71 L396.3,138.10 L397.3,138.53 L398.3,139.00 L399.3,139.51 L400.3,140.05 L401.3,140.63 L402.3,141.25 L403.3,141.90 L404.3,142.59 L405.3,143.31 L406.3,144.06 L407.3,144.85 L408.3,145.66 L409.3,146.50 L410.3,147.37 L411.3,148.27 L412.3,149.19 L413.3,150.13 L414.3,151.09 L415.3,152.07 L416.3,153.07 L417.3,154.08 L418.3,155.11 L419.3,156.15 L420.3,157.21 L421.3,158.27 L422.3,159.34 L423.3,160.42 L424.3,161.51 L425.3,162.59 L426.3,163.68 L427.3,164.78 L428.3,165.87 L429.3,166.96 L430.3,168.05 L431.3,169.14 L432.3,170.24 L433.3,171.34 L434.3,172.44 L435.3,173.55 L436.3,174.66 L437.3,175.78 L438.3,176.90 L439.3,178.03 L440.3,179.17 L441.3,180.32 L442.3,181.47 L443.3,182.64 L444.3,183.81 L445.3,185.00 L446.3,186.20 L447.3,187.41 L448.3,188.63 L449.3,189.86 L450.3,191.10 L451.3,192.35 L452.3,193.60 L453.3,194.85 L454.3,196.10 L455.3,197.35 L456.3,198.58 L457.3,199.82 L458.3,201.04 L459.3,202.24 L460.3,203.43 L461.3,204.60 L462.3,205.76 L463.3,206.88 L464.3,207.99 L465.3,209.06 L466.3,210.11 L467.3,211.12 L468.3,212.09 L469.3,213.03 L470.3,213.93 L471.3,214.79 L472.3,215.60 L473.3,216.37 L474.3,217.08 L475.3,217.74 L476.3,218.35 L477.3,218.90 L478.3,219.40 L479.3,219.83 L480.3,220.19 L481.3,220.50 L482.3,220.73 L483.3,220.90 L484.3,221.01 L485.3,221.06 L486.3,221.05 L487.3,220.97 L488.3,220.84 L489.3,220.65 L490.3,220.40 L491.3,220.09 L492.3,219.73 L493.3,219.31 L494.3,218.84 L495.3,218.32 L496.3,217.75 L497.3,217.12 L498.3,216.45 L499.3,215.72 L500.3,214.95 L501.3,214.13 L502.3,213.26 L503.3,212.35 L504.3,211.40 L505.3,210.40 L506.3,209.35 L507.3,208.27 L508.3,207.15 L509.3,205.98 L510.3,204.78 L511.3,203.54 L512.3,202.26 L513.3,200.95 L514.3,199.60 L515.3,198.22 L516.3,196.81 L517.3,195.38 L518.3,193.92 L519.3,192.45 L520.3,190.97 L521.3,189.48 L522.3,187.99 L523.3,186.49 L524.3,185.00 L525.3,183.51 L526.3,182.03 L527.3,180.57 L528.3,179.12 L529.3,177.70 L530.3,176.30 L531.3,174.93 L532.3,173.59 L533.3,172.30 L534.3,171.04 L535.3,169.82 L536.3,168.65 L537.3,167.54 L538.3,166.48 L539.3,165.48 L539.6,165.19" fill="none" stroke="#00ff00" stroke-width="3.4" stroke-linejoin="round"/>
</svg>
</body></html>
